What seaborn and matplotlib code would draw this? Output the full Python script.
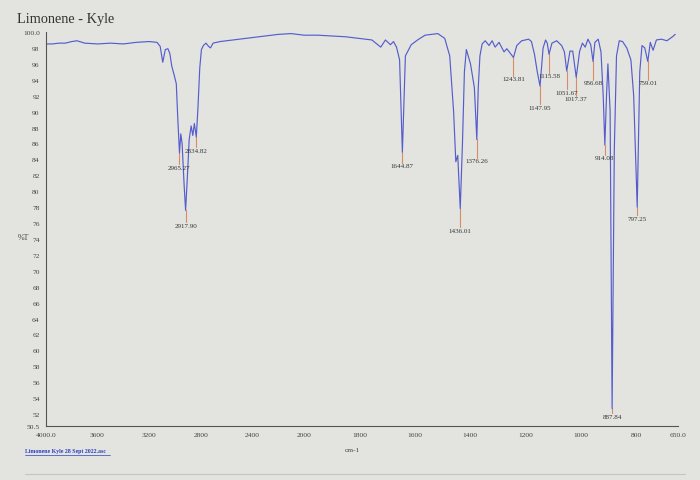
import numpy as np
import pandas as pd
import matplotlib
matplotlib.use("Agg")
import matplotlib.pyplot as plt
from matplotlib.lines import Line2D
import seaborn as sns

# spectrum (wavenumber cm-1, %T)
wavenumber = [4000, 3950, 3900, 3850, 3800, 3760, 3700, 3600, 3500, 3400, 3300, 3200,
              3140, 3115, 3095, 3075, 3055, 3040, 3025, 3005, 2990, 2978, 2965.27, 2955,
              2945, 2930, 2917.90, 2905, 2890, 2875, 2862, 2850, 2834.82, 2822, 2808,
              2795, 2780, 2760, 2740, 2725, 2705, 2650, 2600, 2500, 2400, 2300, 2200,
              2100, 2000, 1950, 1900, 1850, 1802, 1755, 1723, 1706, 1688, 1677, 1666,
              1655, 1644.87, 1634, 1613, 1590, 1563, 1517, 1492, 1474, 1460, 1452, 1445,
              1436.01, 1428, 1421, 1414, 1399, 1385, 1376.26, 1371, 1365, 1357, 1346,
              1332, 1321, 1310, 1296, 1278, 1268, 1243.81, 1232, 1214, 1189, 1179, 1168,
              1158, 1147.95, 1137, 1128, 1122, 1115.58, 1105, 1088, 1070, 1060, 1051.67,
              1040, 1030, 1017.37, 1005, 995, 985, 975, 965, 956.68, 950, 938, 928, 920,
              914.08, 908, 903, 895, 887.84, 880, 872, 862, 850, 835, 820, 810, 797.25,
              788, 780, 770, 759.01, 750, 740, 728, 710, 690, 670, 660]
transmittance = [98.5, 98.5, 98.6, 98.6, 98.8, 98.9, 98.6, 98.5, 98.6, 98.5, 98.7, 98.8,
                 98.7, 98.2, 96.2, 97.8, 97.9, 97.3, 95.7, 94.5, 93.5, 89.0, 84.8, 87.2,
                 86.0, 81.0, 77.6, 81.5, 86.5, 88.2, 87.0, 88.5, 86.8, 90.5, 95.5,
                 97.8, 98.3, 98.6, 98.2, 98.0, 98.6, 98.8, 98.9, 99.1, 99.3, 99.5, 99.7,
                 99.8, 99.6, 99.6, 99.5, 99.4, 99.2, 99.0, 98.1, 99.0, 98.4, 98.8, 98.1,
                 96.5, 84.9, 97.0, 98.4, 99.0, 99.6, 99.8, 99.2, 97.0, 90.0, 83.7, 84.5,
                 77.8, 86.0, 95.0, 97.8, 96.0, 93.0, 86.5, 93.0, 97.0, 98.5, 98.9,
                 98.3, 98.9, 98.1, 98.7, 97.5, 97.9, 96.8, 98.3, 98.9, 99.1, 98.8, 97.2,
                 95.0, 93.2, 98.0, 99.0, 98.6, 97.2, 98.6, 98.9, 98.3, 97.5, 95.1,
                 97.6, 97.6, 94.3, 97.6, 98.6, 98.1, 99.1, 98.4, 96.3, 98.7, 99.1, 97.5, 92.0,
                 85.8, 92.0, 96.0, 90.0, 52.7, 85.0, 97.0, 98.9, 98.8, 98.0, 96.5, 92.0, 78.0,
                 95.0, 98.3, 98.0, 96.3, 98.7, 97.7, 99.0, 99.1, 98.9, 99.4, 99.7]

peak_labels = ["2965.27", "2917.90", "2834.82", "1644.87", "1436.01", "1376.26",
               "1243.81", "1147.95", "1115.58", "1051.67", "1017.37", "956.68",
               "914.08", "887.84", "797.25", "759.01"]

x_ticks = [4000, 3600, 3200, 2800, 2400, 2000, 1800, 1600, 1400, 1200, 1000, 800, 650]
x_tick_labels = ["4000.0", "3600", "3200", "2800", "2400", "2000", "1800", "1600",
                 "1400", "1200", "1000", "800", "650.0"]
y_ticks = [50.5] + list(range(52, 100, 2)) + [100]
y_tick_labels = ["50.5"] + [str(v) for v in range(52, 100, 2)] + ["100.0"]

df = pd.DataFrame({"cm-1": wavenumber, "%T": transmittance})
peak_T = dict(zip(wavenumber, transmittance))

bg = "#e3e4e0"
sns.set_style("white", {"axes.facecolor": bg, "figure.facecolor": bg})
plt.rcParams["font.family"] = ["Liberation Serif", "DejaVu Serif"]

# instrument axis: 4000-2000 compressed, 2000-650 expanded (increasing in w)
A = 258 / 2000
B = 374 / 1350


def fwd(w):
    w = np.asarray(w, dtype=float)
    return np.where(w <= 2000, (w - 650) * B, 1350 * B + (w - 2000) * A)


def inv(u):
    u = np.asarray(u, dtype=float)
    return np.where(u <= 1350 * B, 650 + u / B, 2000 + (u - 1350 * B) / A)


fig = plt.figure(figsize=(7, 4.81), dpi=100)
ax = fig.add_axes([46 / 700, 1 - 427 / 481, 632 / 700, 394 / 481])

sns.lineplot(data=df, x="cm-1", y="%T", ax=ax, estimator=None, sort=False,
             color="#555dcc", linewidth=0.85)

ax.set_xscale("function", functions=(fwd, inv))
ax.set_xlim(4000, 650)
ax.set_ylim(50.5, 100)

# peak picks: short orange leader + value underneath
short_leaders = {"887.84": 0.6, "914.08": 1.2, "797.25": 1.0, "1644.87": 1.3,
                 "2834.82": 1.3, "2965.27": 1.4, "2917.90": 1.5}
for lab in peak_labels:
    w = float(lab)
    t = peak_T[w]
    drop = short_leaders.get(lab, 2.3)
    ax.plot([w, w], [t, t - drop], color="#d98a66", linewidth=0.8, zorder=1)
    ax.annotate(lab, xy=(w, t - drop), xytext=(0, -0.5), textcoords="offset points",
                ha="center", va="top", fontsize=5, color="#333333")

ax.set_xticks(x_ticks)
ax.set_xticklabels(x_tick_labels)
ax.set_yticks(y_ticks)
ax.set_yticklabels(y_tick_labels)
ax.tick_params(axis="both", labelsize=5.4, colors="#555555", labelcolor="#444444",
               length=2, width=0.6, direction="out", pad=2.5)
ax.minorticks_off()

for side in ["top", "right"]:
    ax.spines[side].set_visible(False)
for side in ["left", "bottom"]:
    ax.spines[side].set_color("#555555")
    ax.spines[side].set_linewidth(0.8)

ax.set_xlabel("cm-1", fontsize=5.4, color="#444444")
ax.xaxis.set_label_coords((352 - 46) / 632, (427 - 448) / 394)
ax.set_ylabel("%T", fontsize=5.8, color="#444444", rotation=0, va="center")
ax.yaxis.set_label_coords((23 - 46) / 632, (427 - 238) / 394)

fig.text(17 / 700, 1 - 20 / 481, "Limonene - Kyle", fontsize=10.3, color="#333333",
         va="center", ha="left")
fig.text(25 / 700, 1 - 452 / 481, "Limonene Kyle 28 Sept 2022.asc", fontsize=4.2,
         color="#2b3fbf", fontweight="bold", va="center", ha="left")
fig.add_artist(Line2D([25 / 700, 110 / 700], [1 - 456 / 481, 1 - 456 / 481],
                      color="#2b3fbf", linewidth=0.5))
fig.add_artist(Line2D([25 / 700, 685 / 700], [1 - 475 / 481, 1 - 475 / 481],
                      color="#c4c5c1", linewidth=0.8))

fig.savefig("out.png", dpi=100, facecolor=bg)
